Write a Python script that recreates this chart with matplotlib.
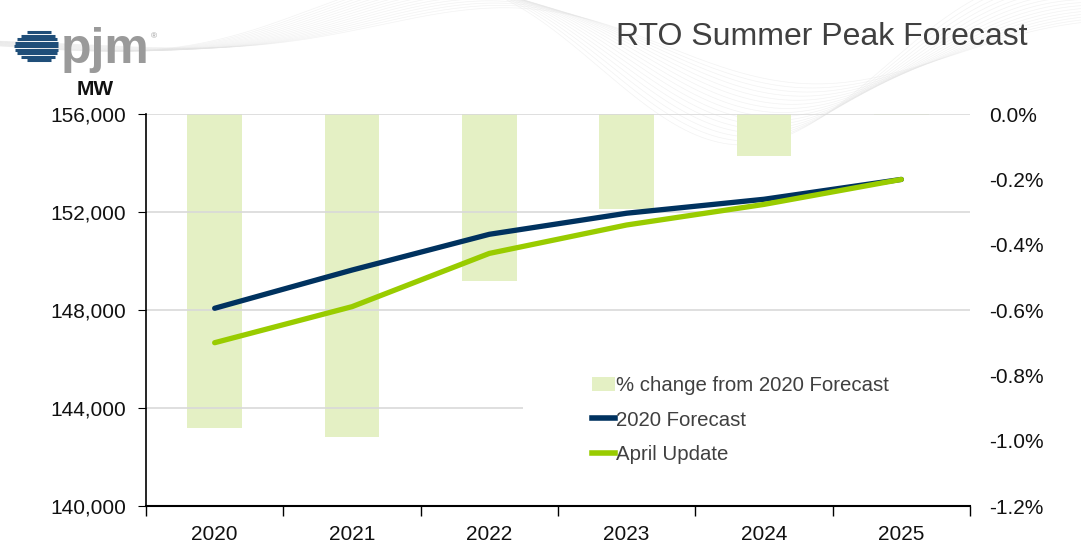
import matplotlib
matplotlib.use("Agg")
import matplotlib.pyplot as plt
from matplotlib.ticker import FuncFormatter, FixedLocator
from matplotlib.patches import Rectangle, Patch
from matplotlib.lines import Line2D
import numpy as np

plt.rcParams['font.family'] = ['Liberation Sans', 'DejaVu Sans']

years = ["2020", "2021", "2022", "2023", "2024", "2025"]
forecast_2020 = [148070, 149630, 151090, 151950, 152520, 153330]
april_update = [146665, 148136, 150310, 151470, 152310, 153330]
pct_change = [-0.96, -0.99, -0.51, -0.29, -0.13, -0.003]

left_ticks = [140000, 144000, 148000, 152000, 156000]
right_ticks = [0.0, -0.2, -0.4, -0.6, -0.8, -1.0, -1.2]

BLUE = "#00325F"
GREEN = "#99CC00"
BARC = "#E4F0C4"
TXT = "#404040"
FS = 15

fig = plt.figure(figsize=(10.81, 5.5), dpi=100)

# faint decorative background waves
bg = fig.add_axes([0, 0, 1, 1], zorder=-5)
bg.set_xlim(0, 1081); bg.set_ylim(550, 0); bg.axis('off')
xx = np.linspace(0, 1081, 400)
for k in range(16):
    ph = k * 0.05
    amp = 45 + 4 * k
    yy = 60 - amp * np.sin(2 * np.pi * (xx - 300) / 700 + ph) * np.exp(-((xx - 750) / 450) ** 2) - 20
    bg.plot(xx, yy, color="#E3E3E3", lw=0.5, alpha=0.45)

ax = fig.add_axes([146/1081, 1-506/550, (970-146)/1081, (506-114)/550])
ax2 = ax.twinx()

x = np.arange(len(years))
ax2.bar(x, pct_change, width=0.4, color=BARC, zorder=1)
ax2.set_ylim(-1.2, 0.0)
ax2.set_yticks(right_ticks)
ax2.yaxis.set_major_formatter(FuncFormatter(lambda v, p: "%.1f%%" % (0.0 if abs(v) < 1e-9 else v)))
ax2.tick_params(axis='y', length=0, labelsize=FS, pad=13.5, labelcolor="#111111")
for s in ax2.spines.values():
    s.set_visible(False)
ax2.patch.set_visible(False)

ax.set_zorder(ax2.get_zorder() + 1)
ax.patch.set_visible(False)
ax.plot(x, forecast_2020, color=BLUE, lw=3.8, solid_capstyle='round', zorder=4)
ax.plot(x, april_update, color=GREEN, lw=3.8, solid_capstyle='round', zorder=5)
ax.set_ylim(140000, 156000)
ax.set_xlim(-0.5, len(years) - 0.5)
ax.set_yticks(left_ticks)
ax.yaxis.set_major_formatter(FuncFormatter(lambda v, p: "{:,.0f}".format(v)))
ax.grid(axis='y', color="#D9D9D9", lw=1.2, zorder=0)
ax.set_axisbelow(True)
ax.set_xticks(x)
ax.set_xticklabels(years)
ax.xaxis.set_minor_locator(FixedLocator(np.arange(-0.5, len(years), 1.0)))
ax.tick_params(axis='x', which='major', length=0, labelsize=FS, pad=14, labelcolor="#111111")
ax.tick_params(axis='x', which='minor', length=7, direction='out', width=1)
ax.tick_params(axis='y', length=6, direction='out', labelsize=FS, labelcolor="#111111", pad=8.5)
for side in ['top', 'right']:
    ax.spines[side].set_visible(False)
ax.spines['left'].set_linewidth(1.2)
ax.spines['bottom'].set_linewidth(1.5)

# white backing behind legend (hides gridline)
ax.add_patch(Rectangle((0.458, 0.1), 0.55, 0.27, transform=ax.transAxes,
                       facecolor='white', edgecolor='none', zorder=2, clip_on=False))

handles = [Patch(facecolor=BARC, edgecolor='none'),
           Line2D([], [], color=BLUE, lw=4),
           Line2D([], [], color=GREEN, lw=4)]
labels = ["% change from 2020 Forecast", "2020 Forecast", "April Update"]
leg = ax.legend(handles, labels, loc='upper left', bbox_to_anchor=(592/1081, 1-376/550),
                bbox_transform=fig.transFigure, frameon=False, fontsize=14.7,
                handlelength=1.13, handletextpad=0.05, labelspacing=0.76,
                borderpad=0, borderaxespad=0)
for t in leg.get_texts():
    t.set_color(TXT)
leg.set_zorder(10)

fig.text(95/1081, 1-90/550, "MW", fontsize=FS, fontweight='bold', ha='center', va='center', color="#111111")
fig.text(1028/1081, 1-37/550, "RTO Summer Peak Forecast", fontsize=23, ha='right', va='center', color=TXT)

# logo
fig.text(61/1081, 1-63/550, "pjm", fontsize=36, fontweight='bold', ha='left', va='baseline', color="#9A9A9A")
fig.text(151/1081, 1-37/550, "\u00ae", fontsize=6, ha='left', va='center', color="#9A9A9A")
lax = fig.add_axes([12/1081, 1-66/550, 50/1081, 40/550])
lax.set_xlim(0, 1); lax.set_ylim(0, 1); lax.axis('off')
for i, yy in enumerate(np.linspace(0.15, 0.85, 9)):
    w = 0.55 * np.sqrt(max(0.0, 1 - ((yy - 0.5) / 0.42) ** 2))
    lax.plot([0.6 - w, 0.6 + w * 0.6], [yy, yy], color="#1F4E79", lw=2.2, solid_capstyle='butt')

fig.savefig("out.png", dpi=100)
